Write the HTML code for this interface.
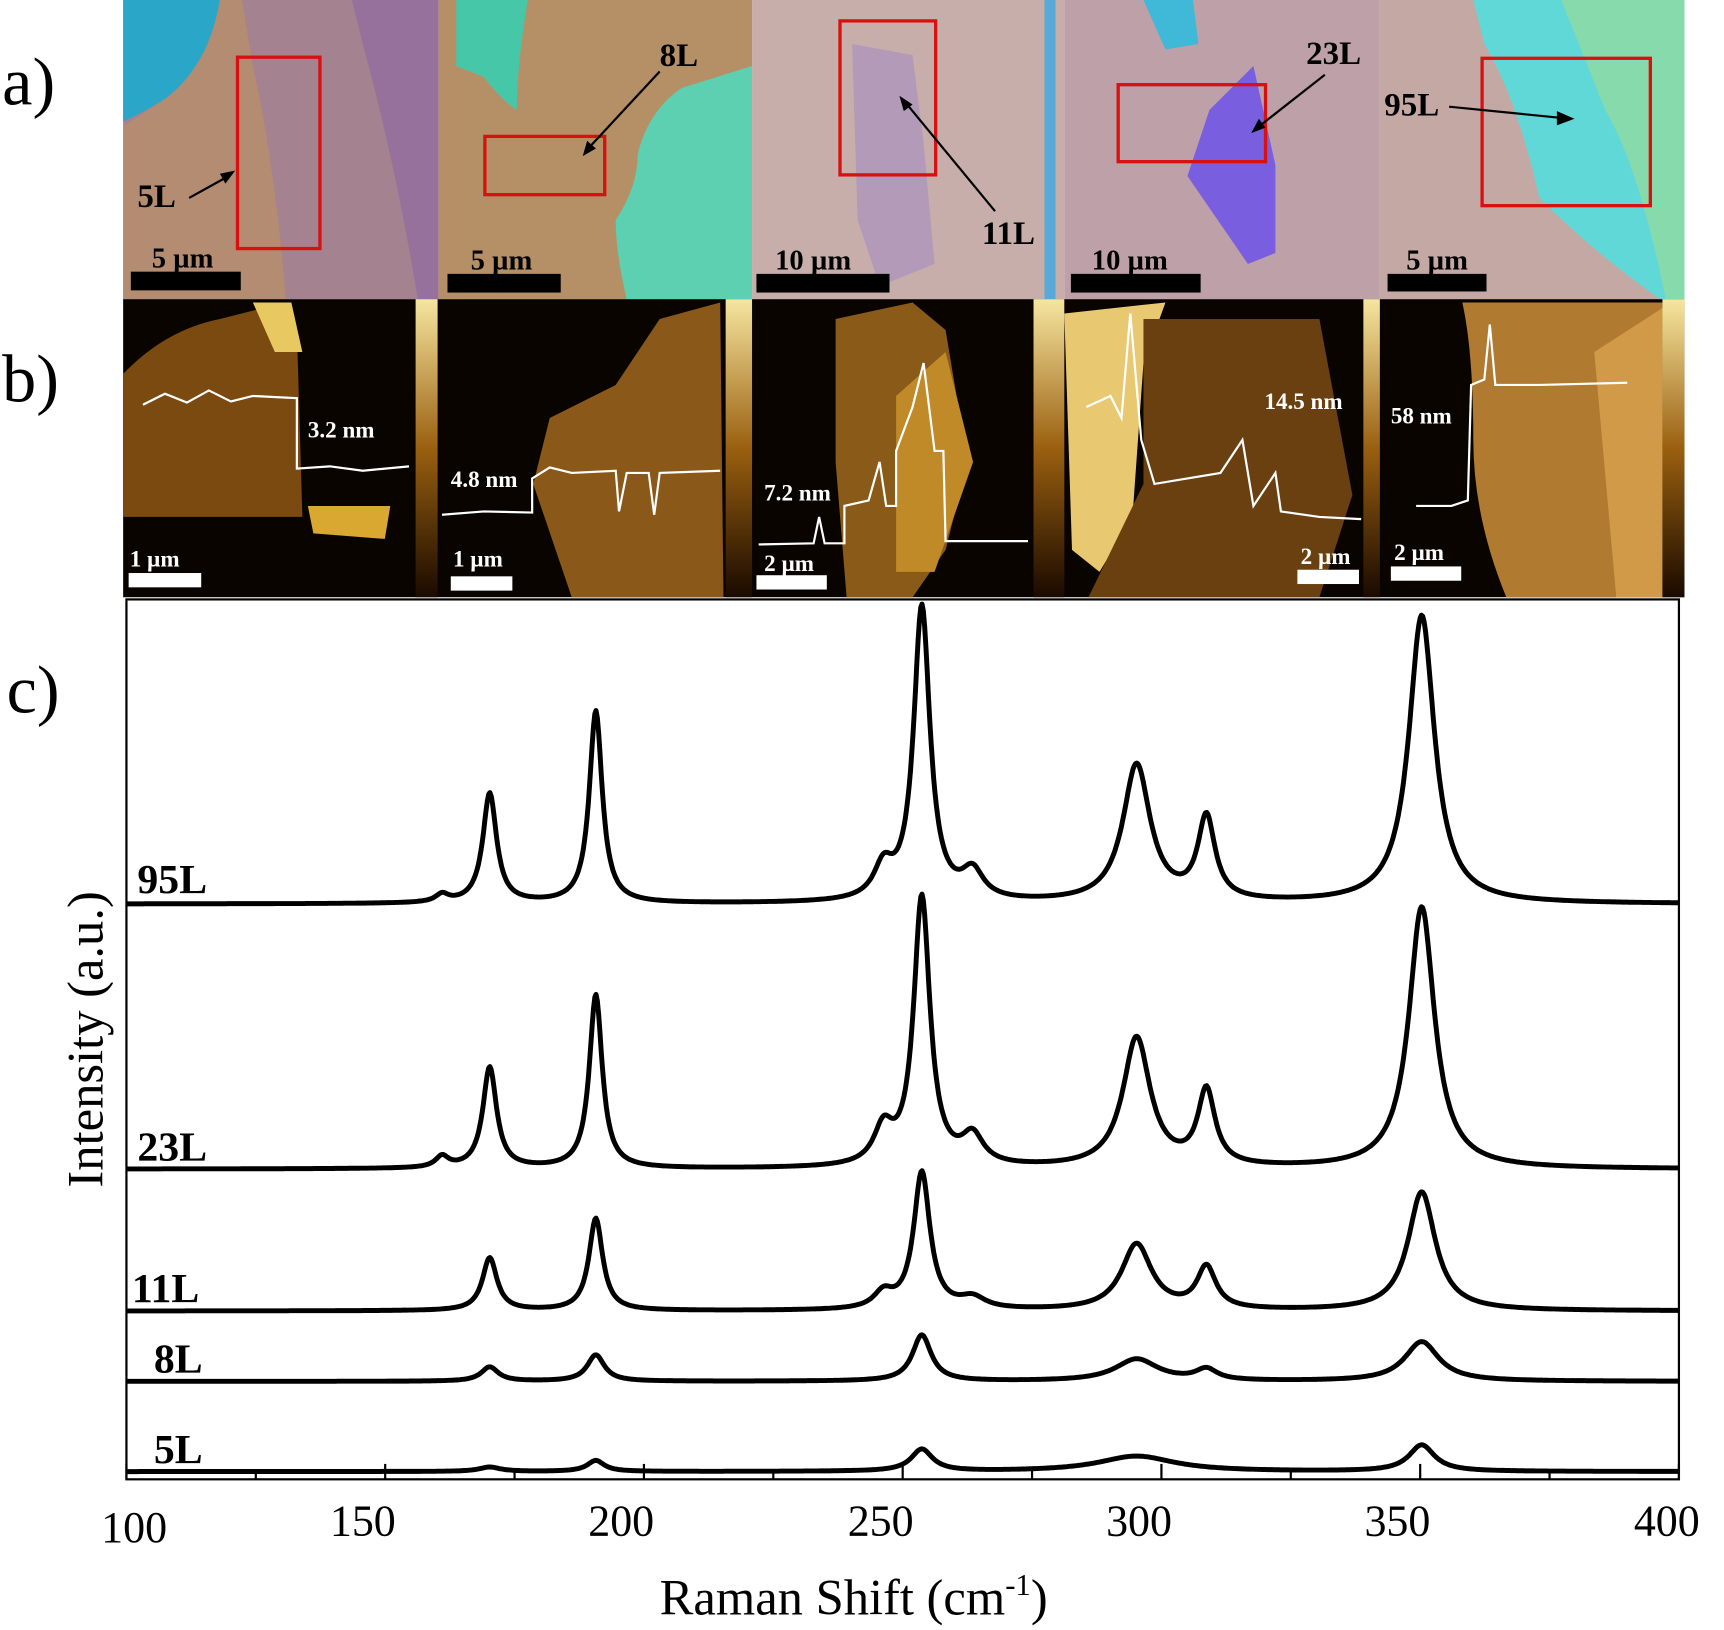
<!DOCTYPE html>
<html><head><meta charset="utf-8"><style>
html,body{margin:0;padding:0;background:#fff;}
svg{display:block;}
text{font-family:"Liberation Serif",serif;}
</style></head><body>
<svg id="s" width="1724" height="1630" viewBox="0 0 1568 1482" preserveAspectRatio="none" xmlns="http://www.w3.org/2000/svg">
<defs>
<linearGradient id="cb" x1="0" y1="1" x2="0" y2="0"><stop offset="0" stop-color="#1a0a00"/><stop offset="0.5" stop-color="#9a6010"/><stop offset="1" stop-color="#f6e6a0"/></linearGradient>
</defs>
<rect width="1568" height="1482" fill="#fff"/>
<text x="2" y="95" font-size="62">a)</text>
<text x="2" y="365" font-size="62">b)</text>
<text x="6" y="648" font-size="62">c)</text>

<g>
<rect x="112" y="0" width="287" height="272" fill="#a58290"/>
<path d="M112 0 H200 Q190 60 150 90 Q125 105 112 110Z" fill="#2aa6c8"/>
<path d="M200 0 Q190 60 150 90 L112 115 V272 H260 Q250 150 230 60 L220 0Z" fill="#b48c72"/>
<path d="M330 40 Q360 150 380 272 H399 V0 H320Z" fill="#8e6aa0" opacity="0.7"/>
<rect x="216" y="52" width="75" height="174" fill="none" stroke="#d81010" stroke-width="3"/>
<text x="125" y="188" font-size="30" font-weight="bold">5L</text>
<line x1="172" y1="180" x2="208" y2="160" stroke="#000" stroke-width="2"/><polygon points="214,155 200,158 205,167" fill="#000"/>
<text x="138" y="243" font-size="26" font-weight="bold">5 µm</text>
<rect x="119" y="247" width="100" height="17" fill="#000"/>

<rect x="399" y="0" width="285" height="272" fill="#b59066"/>
<path d="M415 0 H480 Q470 60 470 100 Q455 90 440 70 L415 60Z" fill="#46c8a8"/>
<path d="M620 80 L684 60 V272 H570 Q560 230 560 200 Q580 170 580 140 Q590 100 620 80Z" fill="#5cd0b0"/>
<rect x="441" y="124" width="109" height="53" fill="none" stroke="#d81010" stroke-width="3"/>
<text x="600" y="60" font-size="30" font-weight="bold">8L</text>
<line x1="600" y1="65" x2="535" y2="135" stroke="#000" stroke-width="2"/><polygon points="530,142 534,128 542,135" fill="#000"/>
<text x="428" y="245" font-size="26" font-weight="bold">5 µm</text>
<rect x="407" y="249" width="103" height="17" fill="#000"/>

<rect x="684" y="0" width="284" height="272" fill="#c8aeaa"/>
<path d="M775 40 L830 50 L840 130 L850 240 L800 260 L780 200Z" fill="#b39ab8"/>
<rect x="950" y="0" width="10" height="272" fill="#58a8d8"/>
<rect x="764" y="19" width="87" height="140" fill="none" stroke="#d81010" stroke-width="3"/>
<text x="893" y="222" font-size="30" font-weight="bold">11L</text>
<line x1="905" y1="192" x2="825" y2="95" stroke="#000" stroke-width="2"/><polygon points="818,87 822,101 830,95" fill="#000"/>
<text x="705" y="245" font-size="26" font-weight="bold">10 µm</text>
<rect x="688" y="249" width="121" height="17" fill="#000"/>

<rect x="968" y="0" width="287" height="272" fill="#bea0a8"/>
<path d="M1040 0 H1085 L1090 40 L1060 45Z" fill="#40b8d8"/>
<path d="M1100 100 L1140 60 L1160 150 L1160 230 L1135 240 L1080 160Z" fill="#7a5ee0"/>
<rect x="1017" y="77" width="134" height="70" fill="none" stroke="#d81010" stroke-width="3"/>
<text x="1188" y="58" font-size="30" font-weight="bold">23L</text>
<line x1="1205" y1="68" x2="1145" y2="115" stroke="#000" stroke-width="2"/><polygon points="1138,121 1145,108 1151,116" fill="#000"/>
<text x="993" y="245" font-size="26" font-weight="bold">10 µm</text>
<rect x="974" y="249" width="118" height="17" fill="#000"/>

<rect x="1255" y="0" width="277" height="272" fill="#c4a8a4"/>
<path d="M1340 0 H1532 V272 H1510 Q1450 230 1400 180 Q1380 90 1350 40Z" fill="#60d8d8"/>
<path d="M1420 0 H1532 V272 H1515 Q1490 150 1460 100Z" fill="#98dc98" opacity="0.7"/>
<rect x="1348" y="53" width="153" height="134" fill="none" stroke="#d81010" stroke-width="3"/>
<text x="1259" y="105" font-size="30" font-weight="bold">95L</text>
<line x1="1318" y1="97" x2="1418" y2="107" stroke="#000" stroke-width="2"/><polygon points="1432,108 1416,101 1416,114" fill="#000"/>
<text x="1279" y="245" font-size="26" font-weight="bold">5 µm</text>
<rect x="1262" y="249" width="90" height="16" fill="#000"/>
</g>

<g>
<rect x="112" y="272" width="1420" height="271" fill="#0a0400"/>
<path d="M112 340 Q150 300 200 290 L240 280 L270 300 L275 470 L112 470Z" fill="#7a4a10"/>
<path d="M230 275 H265 L275 320 L250 320Z" fill="#e8c860"/>
<path d="M280 460 H355 L350 490 L285 485Z" fill="#d8a830"/>
<rect x="378" y="272" width="20" height="271" fill="url(#cb)"/>
<path d="M500 380 L560 350 L600 290 L655 275 L658 543 L520 543 L485 440Z" fill="#8a5818"/>
<rect x="660" y="272" width="24" height="271" fill="url(#cb)"/>
<path d="M760 290 L830 275 L860 300 L880 420 L860 500 L830 543 L770 543 L760 420Z" fill="#8a5a18"/>
<path d="M815 360 L860 320 L885 420 L850 520 L815 520Z" fill="#c08a28"/>
<rect x="940" y="272" width="28" height="271" fill="url(#cb)"/>
<path d="M968 285 L1060 275 L1040 330 L1030 470 L1000 520 L975 500Z" fill="#e8c870"/>
<path d="M1040 290 L1200 290 L1230 450 L1200 543 L990 543 L1040 440Z" fill="#6a4010"/>
<rect x="1240" y="272" width="15" height="271" fill="url(#cb)"/>
<path d="M1330 275 H1512 V543 H1370 Q1340 470 1340 400 Q1340 320 1330 275Z" fill="#b07a30"/>
<path d="M1450 320 L1512 280 V543 L1470 543Z" fill="#d09a48"/>
<rect x="1512" y="272" width="20" height="271" fill="url(#cb)"/>
<g fill="none" stroke="#fff" stroke-width="2">
<path d="M130 368 L150 358 L170 366 L190 355 L210 365 L230 360 L270 362 L270 426 L300 424 L330 428 L372 424"/>
<path d="M402 468 L440 465 L484 466 L484 435 L500 425 L520 430 L560 428 L563 465 L570 430 L590 430 L595 468 L600 430 L655 428"/>
<path d="M690 495 L740 494 L745 470 L750 494 L768 494 L768 460 L790 455 L800 420 L806 460 L815 460 L815 410 L830 370 L840 330 L850 410 L858 410 L860 492 L935 492"/>
<path d="M988 370 L1010 360 L1020 380 L1028 285 L1038 400 L1050 440 L1080 435 L1110 430 L1130 400 L1140 460 L1160 430 L1165 465 L1200 470 L1238 472"/>
<path d="M1288 460 L1320 460 L1335 455 L1338 350 L1350 345 L1355 295 L1360 350 L1400 350 L1480 348"/>
</g>
<g fill="#fff" font-weight="bold" font-size="21">
<text x="280" y="398">3.2 nm</text>
<text x="410" y="443">4.8 nm</text>
<text x="695" y="455">7.2 nm</text>
<text x="1150" y="372">14.5 nm</text>
<text x="1265" y="385">58 nm</text>
<text x="118" y="515">1 µm</text><rect x="117" y="521" width="66" height="13"/>
<text x="412" y="515">1 µm</text><rect x="410" y="524" width="56" height="13"/>
<text x="695" y="519">2 µm</text><rect x="688" y="523" width="64" height="13"/>
<text x="1183" y="513">2 µm</text><rect x="1180" y="518" width="56" height="13"/>
<text x="1268" y="509">2 µm</text><rect x="1265" y="515" width="64" height="13"/>
</g>
</g>

<rect x="115" y="545" width="1412" height="800" fill="none" stroke="#000" stroke-width="2"/>
<g id="ticks" stroke="#000" stroke-width="2"></g>
<g id="spec" fill="none" stroke="#000" stroke-width="4.5" stroke-linejoin="round"></g>
<g font-size="40">
<text x="92" y="1402">100</text>
<text x="300" y="1396">150</text>
<text x="535" y="1396">200</text>
<text x="771" y="1396">250</text>
<text x="1006" y="1396">300</text>
<text x="1241" y="1396">350</text>
<text x="1486" y="1396">400</text>
<text x="600" y="1468" font-size="46">Raman Shift (cm<tspan dy="-18" font-size="28">-1</tspan><tspan dy="18">)</tspan></text>
<text transform="translate(93,945) rotate(-90)" text-anchor="middle" font-size="46">Intensity (a.u.)</text>
</g>
<g font-size="38" font-weight="bold">
<text x="125" y="812">95L</text>
<text x="125" y="1055">23L</text>
<text x="120" y="1184">11L</text>
<text x="140" y="1248">8L</text>
<text x="140" y="1330">5L</text>
</g>
</svg>
<script>
var X=function(v){return 115+(v-100)*1412/300;};
var t=document.getElementById('ticks'),h='';
for(var v=100;v<=400;v+=25){var x=X(v);var L=(v%50==0)?14:8;h+='<line x1="'+x+'" y1="1345" x2="'+x+'" y2="'+(1345-L)+'"/>';}
t.innerHTML=h;
var S=[
 [822,[[161,7,1.5],[170.2,100,1.6],[190.7,175,1.5],[246.3,28,2.2],[253.7,268,1.9],[263.5,25,2.5],[295.2,125,3.2],[308.7,75,2],[350.3,262,3]]],
 [1063,[[161,10,1.5],[170.2,92,1.6],[190.7,158,1.5],[246.3,32,2.2],[253.7,245,1.9],[263.5,26,2.5],[295.2,118,3.2],[308.7,68,2],[350.3,238,3]]],
 [1192,[[170.2,48,1.7],[190.7,84,1.6],[246.3,14,2.2],[253.7,125,1.9],[263.5,10,3],[295.2,60,3.5],[308.7,38,2.2],[350.3,108,3.2]]],
 [1256,[[170.2,13,2],[190.7,24,2],[253.7,42,2.2],[295.2,20,5],[308.7,10,2.5],[350.3,36,4]]],
 [1338,[[170.2,4,2.5],[190.7,10,2],[253.7,20,2.5],[295.2,14,9],[350.3,24,3]]]
];
var g=document.getElementById('spec'),o='';
S.forEach(function(s){var d='';for(var v=100;v<=400;v+=0.25){var y=s[0];s[1].forEach(function(p){var z=(v-p[0])/p[2];y-=p[1]/(1+z*z);});d+=(d?'L':'M')+X(v).toFixed(1)+' '+y.toFixed(1);}o+='<path d="'+d+'"/>';});
g.innerHTML=o;
</script>
</body></html>
